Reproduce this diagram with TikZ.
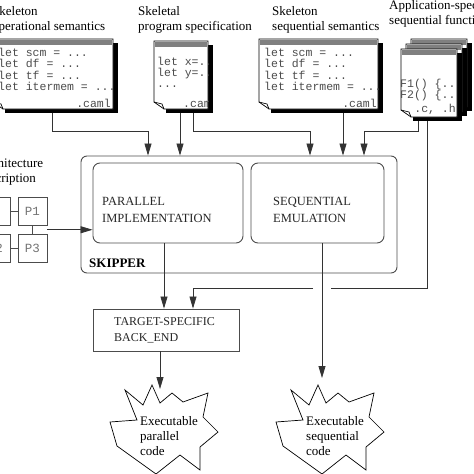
\documentclass[tikz,border=0pt]{standalone}
\usepackage{fontspec}
\setmainfont{Liberation Serif}
\newfontfamily\codefont{Liberation Mono}
\usetikzlibrary{arrows.meta,fit,calc}

% a source file: shadow, page with folded corner, title bar
\newcommand\docpage[5]{% name, left, top, right, bottom
	\fill[black] (#2+12,#3+4) rectangle (#4+5,#5+4);
	\filldraw[fill=white, draw=black, line width=0.7pt] (#2,#3) -- (#4,#3) -- (#4,#5) -- (#2+10,#5) -- (#2,#5-7) -- cycle;
	\fill[black!50] (#2+0.7,#3+0.7) rectangle (#4-0.7,#3+6);
	\draw[line width=0.7pt] (#2,#5-7) -- (#2+8,#5-5) -- (#2+10,#5);
	\node[fit={(#2,#3) (#4+5,#5+4)}, inner sep=0] (#1) {};
}

% the executable code burst
\newcommand\burst[1]{%
	\filldraw[fill=white, draw=black, line width=0.7pt, shift={(#1,0)}]
		(125,390) -- (143,405) -- (152,385) -- (160,403) -- (172,393) -- (183,402)
		-- (208,393) -- (203,417) -- (218,432) -- (200,447) -- (200,470) -- (180,455)
		-- (156,474) -- (117,446) -- (110,422) -- (137,420) -- cycle;
}

\begin{document}
\begin{tikzpicture}[x=1pt, y=-1pt,
	arr/.style={draw=black!80, line width=0.8pt, -{Triangle[length=12pt,width=7pt]}},
	wire/.style={draw=black!70, line width=0.8pt},
	outerbox/.style={draw=black!70, line width=0.9pt, rounded corners=6pt, inner sep=0},
	innerbox/.style={draw=black!70, line width=0.9pt, rounded corners=7pt, inner sep=0},
	plainbox/.style={draw=black!70, line width=0.9pt, inner sep=0},
	procbox/.style={draw=black!70, line width=0.8pt, minimum width=29pt, minimum height=28pt, inner sep=0, font=\codefont\fontsize{12.5}{14}\selectfont, text=black!55},
	lbl/.style={inner sep=0, align=left, anchor=north west, font=\fontsize{13}{15}\selectfont},
	boxtxt/.style={inner sep=0, align=left, anchor=north west, font=\fontsize{12.5}{16.5}\selectfont, text=black!85},
	code/.style={inner sep=0, anchor=base west, font=\codefont\fontsize{11.5}{11.3}\selectfont, text=black!70}]
	\useasboundingbox (0,0) rectangle (474,474);
	
	% source files
	\docpage{ops}{-7}{39}{113}{109}
	\docpage{prog}{154}{41}{208}{109}
	\docpage{seqs}{259}{39}{378}{109}
	\docpage{apps-back}{411}{39}{467}{107}
	\docpage{apps-mid}{406}{44}{462}{112}
	\docpage{apps}{401}{49}{457}{117}
	
	\begin{scope}
		\clip (-7,39) rectangle (113,109);
		\node[code] (ops-l1) at (-2,56.5) {let scm = ...};
		\node[code] (ops-l2) at (-2,67.8) {let df = ...};
		\node[code] (ops-l3) at (-2,79.1) {let tf = ...};
		\node[code] (ops-l4) at (-2,90.4) {let itermem = ...};
		\node[code, anchor=base east] (ops-ext) at (111,107) {.caml};
	\end{scope}
	\begin{scope}
		\clip (154,41) rectangle (208,109);
		\node[code] (prog-l1) at (157,65) {let x=..};
		\node[code] (prog-l2) at (157,76) {let y=..};
		\node[code] (prog-l3) at (157,87) {...};
		\node[code] (prog-ext) at (183,107) {.caml};
	\end{scope}
	\begin{scope}
		\clip (259,39) rectangle (378,109);
		\node[code] (seqs-l1) at (264,56.5) {let scm = ...};
		\node[code] (seqs-l2) at (264,67.8) {let df = ...};
		\node[code] (seqs-l3) at (264,79.1) {let tf = ...};
		\node[code] (seqs-l4) at (264,90.4) {let itermem = ...};
		\node[code, anchor=base east] (seqs-ext) at (377,107) {.caml};
	\end{scope}
	\begin{scope}
		\clip (401,49) rectangle (457,117);
		\node[code] (apps-l1) at (400,87) {F1() \{..};
		\node[code] (apps-l2) at (400,98) {F2() \{..};
		\node[code, anchor=base east] (apps-ext) at (456,112) {.c, .h};
	\end{scope}
	
	% labels
	\node[lbl] (ops-lbl) at (-8,6) {Skeleton\\operational semantics};
	\node[lbl] (prog-lbl) at (138,6) {Skeletal\\program specification};
	\node[lbl] (seqs-lbl) at (272,6) {Skeleton\\sequential semantics};
	\node[lbl] (apps-lbl) at (389,0) {Application-specific\\sequential functions};
	\node[lbl] (arch-lbl) at (-22,158) {Architecture\\description};
	
	% skipper
	\node[outerbox, minimum width=316pt, minimum height=117pt] (skipper) at (239,214.5) {};
	\node[inner sep=0, anchor=base west, font=\bfseries\fontsize{13}{15}\selectfont] (skipper-lbl) at (89,267) {SKIPPER};
	\node[innerbox, minimum width=150pt, minimum height=80pt] (par) at (168,203) {};
	\node[innerbox, minimum width=133pt, minimum height=80pt] (seq) at (317.5,203) {};
	\node[boxtxt] (par-txt) at (102,197.5) {PARALLEL\\IMPLEMENTATION};
	\node[boxtxt] (seq-txt) at (273,197.5) {SEQUENTIAL\\EMULATION};
	
	\node[plainbox, minimum width=146pt, minimum height=42pt] (back) at (166,330) {};
	\node[boxtxt, font=\fontsize{12}{16}\selectfont] (back-txt) at (114,317.5) {TARGET-SPECIFIC\\BACK\_END};
	
	% architecture
	\node[procbox] (p0) at (-4.5,211) {};
	\node[procbox] (p1) at (32.5,211) {P1};
	\node[procbox] (p2) at (-4.5,248.5) {P2};
	\node[procbox] (p3) at (32.5,248.5) {P3};
	\draw[wire] (p0) -- (p1);
	\draw[wire] (p2) -- (p3);
	\draw[wire] (p1) -- (p3);
	\coordinate (arch-out) at ($(p1.south east)!0.5!(p3.north east)$);
	\draw[arr] (arch-out) -- (arch-out -| par.west);
	
	% executable code
	\burst{0}
	\burst{166}
	\node[lbl] (par-code) at (140,416) {Executable\\parallel\\code};
	\node[lbl] (seq-code) at (306,416) {Executable\\sequential\\code};
	\coordinate (par-code-in) at (160,389);
	\coordinate (seq-code-in) at (322,378);
	
	% inputs of skipper
	\coordinate (in-a) at ([xshift=-91pt]skipper.north);
	\coordinate (in-b) at ([xshift=-59pt]skipper.north);
	\coordinate (in-c) at ([xshift=71pt]skipper.north);
	\coordinate (in-d) at ([xshift=104pt]skipper.north);
	\coordinate (in-e) at ([xshift=125pt]skipper.north);
	\coordinate (gap-r) at (331,288);
	\coordinate (gap-l) at (313,288);
	
	\draw[arr] ([xshift=-3.5pt]ops.south) -- ++(0,18) -| (in-a);
	\draw[arr] ([xshift=-3.5pt]prog.south) -- (in-b);
	\draw[arr] ([xshift=9.5pt]prog.south) -- ++(0,18) -| (in-c);
	\draw[arr] ([xshift=22pt]seqs.south) -- (in-d);
	\draw[arr] ([xshift=-13.5pt]apps.south) -- ++(0,10) -| (in-e);
	\draw[arr] ([xshift=-4.5pt]apps.south) |- (gap-r) (gap-l) -| ([xshift=27pt]back.north);
	
	\draw[arr] ([xshift=-4pt]par.south) -- ([xshift=-2pt]back.north);
	\draw[arr] ([xshift=4.5pt]seq.south) -- (seq-code-in);
	\draw[arr] ([xshift=-6pt]back.south) -- (par-code-in);
\end{tikzpicture}
\end{document}
